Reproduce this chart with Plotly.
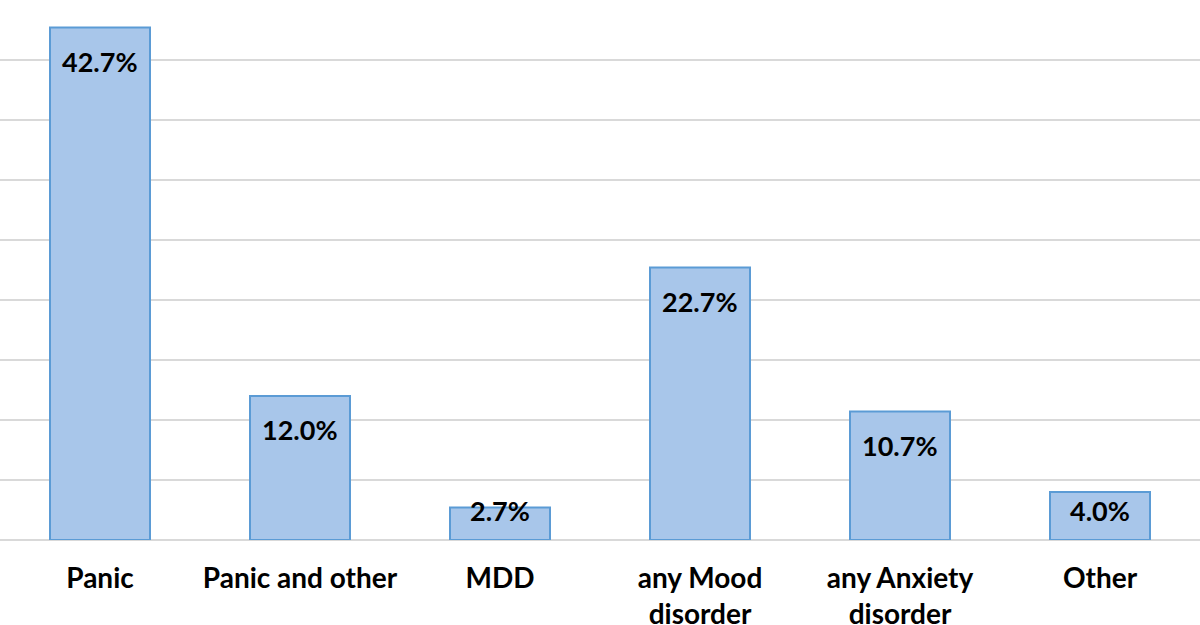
import plotly.graph_objects as go

categories = ["Panic", "Panic and other", "MDD", "any Mood<br>disorder", "any Anxiety<br>disorder", "Other"]
values = [42.7, 12.0, 2.7, 22.7, 10.7, 4.0]
labels = ["42.7%", "12.0%", "2.7%", "22.7%", "10.7%", "4.0%"]

FONT = "Lato"

fig = go.Figure()
fig.add_trace(go.Bar(
    x=categories, y=values, width=0.5,
    marker=dict(color="#A8C6EA", line=dict(color="#5B9BD5", width=2)),
    hoverinfo="skip",
))

# value labels placed inside the end of each bar (Excel-style)
for c, v, t in zip(categories, values, labels):
    ly = max(v - 2.83, 2.5)
    fig.add_annotation(x=c, y=ly, text="<b>" + t + "</b>", showarrow=False,
                       font=dict(family=FONT, size=27, color="black"),
                       xanchor="center", yanchor="middle")

fig.update_layout(
    width=1200, height=625,
    margin=dict(l=0, r=0, t=0, b=85, autoexpand=False),
    paper_bgcolor="white", plot_bgcolor="white",
    showlegend=False,
    bargap=0.5,
)
fig.update_xaxes(
    type="category", range=[-0.5, 5.5], automargin=False,
    tickfont=dict(family=FONT, size=28, color="black", weight="bold"),
    ticks="", showgrid=False, showline=False, ticklabelstandoff=19,
)
fig.update_yaxes(
    range=[0, 45], dtick=5, showticklabels=False, automargin=False,
    showgrid=True, gridcolor="#D9D9D9", gridwidth=2,
    zeroline=True, zerolinecolor="#D9D9D9", zerolinewidth=2,
)
fig.write_html("out.html", config={"displayModeBar": False},
               post_script="document.body.style.margin='0';")
